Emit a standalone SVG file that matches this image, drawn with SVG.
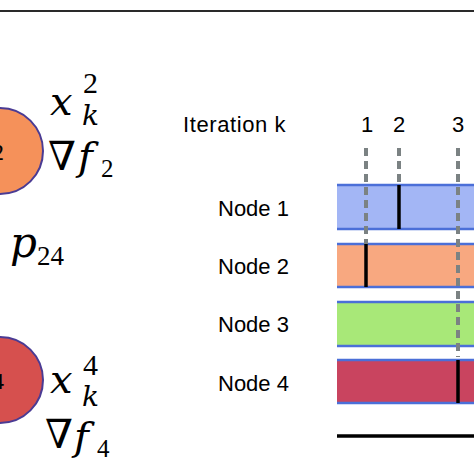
<svg xmlns="http://www.w3.org/2000/svg" width="474" height="474" viewBox="0 0 474 474">
<defs>
<style>
.math{font-family:"Liberation Serif","DejaVu Serif",serif;fill:#000}
.it{font-family:"DejaVu Serif",serif;font-style:italic;fill:#000}
.lbl{font-family:"Liberation Sans",Arial,sans-serif;font-size:22px;fill:#000}
.num{font-family:"Liberation Sans",Arial,sans-serif;font-size:22px;fill:#000;text-anchor:middle}
.edge{stroke:#4b6fd8;stroke-width:2.5}
.dash{stroke:#7b8283;stroke-width:4;stroke-dasharray:8 5;fill:none}
.mark{stroke:#000;stroke-width:3.5}
.circ{stroke:#4a3b94;stroke-width:2}
</style>
</defs>
<rect x="0" y="0" width="474" height="474" fill="#fff"/>
<line x1="0" y1="11" x2="474" y2="11" stroke="#2a2a2a" stroke-width="2"/>

<g id="agent2">
<circle class="circ" cx="0" cy="151" r="43" fill="#f5915a"/>
<text class="math" x="4" y="160" font-size="24" text-anchor="end" fill="#5a3020">2</text>
<text class="it" x="50" y="115" font-size="40">x</text>
<text class="math" x="83" y="93" font-size="30">2</text>
<text class="it" x="82" y="125" font-size="28">k</text>
<text class="math" x="48" y="170" font-size="40">∇</text>
<text class="it" x="78" y="170" font-size="40">f</text>
<text class="math" x="101" y="177" font-size="25">2</text>
</g>

<g id="edge-label">
<text class="it" x="10" y="257" font-size="42">p</text>
<text class="math" x="37" y="265" font-size="27">24</text>
</g>

<g id="agent4">
<circle class="circ" cx="0" cy="380" r="43" fill="#d6504e"/>
<text class="math" x="4" y="389" font-size="24" text-anchor="end" fill="#5a2020">4</text>
<text class="it" x="50" y="393" font-size="40">x</text>
<text class="math" x="83" y="375" font-size="30">4</text>
<text class="it" x="82" y="406" font-size="28">k</text>
<text class="math" x="45" y="448" font-size="40">∇</text>
<text class="it" x="74" y="450" font-size="40">f</text>
<text class="math" x="97" y="457" font-size="25">4</text>
</g>

<g id="header">
<text class="lbl" x="183" y="132" letter-spacing="0.6">Iteration k</text>
<text class="num" x="367" y="132">1</text>
<text class="num" x="399" y="132">2</text>
<text class="num" x="458" y="132">3</text>
</g>

<g id="node1">
<text class="lbl" x="218" y="216">Node 1</text>
<rect x="337" y="185" width="140" height="44" fill="#a3b6f5"/>
<line class="edge" x1="337" y1="185" x2="474" y2="185"/>
<line class="edge" x1="337" y1="229" x2="474" y2="229"/>
</g>
<g id="node2">
<text class="lbl" x="218" y="274">Node 2</text>
<rect x="337" y="244" width="140" height="43" fill="#f8a880"/>
<line class="edge" x1="337" y1="244" x2="474" y2="244"/>
<line class="edge" x1="337" y1="287" x2="474" y2="287"/>
</g>
<g id="node3">
<text class="lbl" x="218" y="332">Node 3</text>
<rect x="337" y="302" width="140" height="44" fill="#a8e878"/>
<line class="edge" x1="337" y1="302" x2="474" y2="302"/>
<line class="edge" x1="337" y1="346" x2="474" y2="346"/>
</g>
<g id="node4">
<text class="lbl" x="218" y="391">Node 4</text>
<rect x="337" y="360" width="140" height="43" fill="#c9445f"/>
<line class="edge" x1="337" y1="360" x2="474" y2="360"/>
<line class="edge" x1="337" y1="403" x2="474" y2="403"/>
</g>

<g id="connectors">
<line class="dash" x1="366" y1="148" x2="366" y2="244"/>
<line class="dash" x1="399" y1="148" x2="399" y2="185"/>
<line class="dash" x1="458" y1="148" x2="458" y2="357"/>
<line class="mark" x1="366" y1="244" x2="366" y2="287"/>
<line class="mark" x1="399" y1="185" x2="399" y2="229"/>
<line class="mark" x1="458" y1="360" x2="458" y2="403"/>
<line x1="337" y1="436" x2="474" y2="436" stroke="#000" stroke-width="3.5"/>
</g>
</svg>
